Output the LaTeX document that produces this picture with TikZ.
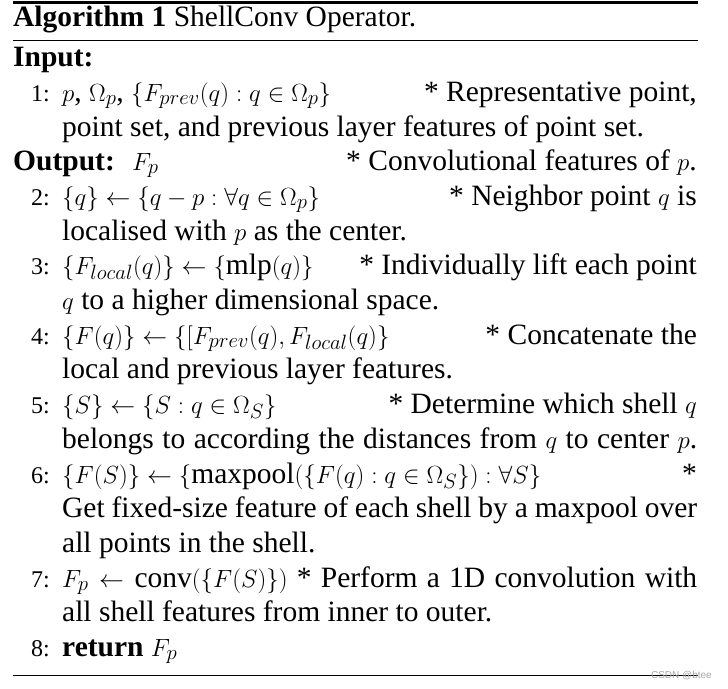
\documentclass[tikz,border=0pt]{standalone}
\usepackage{fontspec}
\setmainfont{Liberation Serif}
\newfontfamily\wmfont{Liberation Sans}
\begin{document}
\begin{tikzpicture}[x=1pt,y=-1pt,
  txt/.style={inner sep=0pt,anchor=base west,font=\fontsize{29.5}{33}\selectfont},
  rtx/.style={inner sep=0pt,anchor=base east,font=\fontsize{29.5}{33}\selectfont},
  num/.style={inner sep=0pt,anchor=base east,font=\fontsize{24}{28}\selectfont}]
\useasboundingbox (0,0) rectangle (728,688);
\def\L{62}\def\R{697}
\newcommand\jline[1]{\parbox[t]{635pt}{\parfillskip=0pt #1}}
\draw[line width=2.5pt] (13,2.5) coordinate (t1) -- (698,2.5) coordinate (t2);
\draw[line width=1pt] (13,40) coordinate (m1) -- (698,40) coordinate (m2);
\draw[line width=1pt] (13,675) coordinate (b1) -- (698,675) coordinate (b2);
\node[txt] (cap) at (13,26) {\textbf{Algorithm 1} ShellConv Operator.};
\node[txt] (in) at (13,66) {\textbf{Input:}};
\node[num] (n1) at (50,101) {1:};
\node[txt] (l1) at (\L,101) {$p$, $\Omega_p$, $\{F_{prev}(q): q\in\Omega_p\}$};
\node[rtx] (r1) at (\R,101) {* Representative point,};
\node[txt] (l2) at (\L,136) {point set, and previous layer features of point set.};
\node[txt] (out) at (13,170) {\textbf{Output:} \ $F_p$};
\node[rtx] (r3) at (\R,170) {* Convolutional features of $p$.};
\node[num] (n2) at (50,205) {2:};
\node[txt] (l4) at (\L,205) {$\{q\}\leftarrow\{q-p:\forall q\in\Omega_p\}$};
\node[rtx] (r4) at (\R,205) {* Neighbor point $q$ is};
\node[txt] (l5) at (\L,240) {localised with $p$ as the center.};
\node[num] (n3) at (50,274) {3:};
\node[txt] (l6) at (\L,274) {$\{F_{local}(q)\}\leftarrow\{\mathrm{mlp}(q)\}$};
\node[rtx] (r6) at (\R,274) {* Individually lift each point};
\node[txt] (l7) at (\L,309) {$q$ to a higher dimensional space.};
\node[num] (n4) at (50,344) {4:};
\node[txt] (l8) at (\L,344) {$\{F(q)\}\leftarrow\{[F_{prev}(q),F_{local}(q)\}$};
\node[rtx] (r8) at (\R,344) {* Concatenate the};
\node[txt] (l9) at (\L,378) {local and previous layer features.};
\node[num] (n5) at (50,413) {5:};
\node[txt] (l10) at (\L,413) {$\{S\}\leftarrow\{S:q\in\Omega_S\}$};
\node[rtx] (r10) at (\R,413) {* Determine which shell $q$};
\node[txt] (l11) at (\L,448) {\jline{belongs to according the distances from $q$ to center $p$.}};
\node[num] (n6) at (50,483) {6:};
\node[txt] (l12) at (\L,483) {$\{F(S)\}\leftarrow\{\mathrm{maxpool}(\{F(q):q\in\Omega_S\}):\forall S\}$};
\node[rtx] (r12) at (\R,483) {*};
\node[txt] (l13) at (\L,517) {\jline{Get fixed-size feature of each shell by a maxpool over}};
\node[txt] (l14) at (\L,552) {all points in the shell.};
\node[num] (n7) at (50,587) {7:};
\node[txt] (l15) at (\L,587) {\jline{$F_p\leftarrow\mathrm{conv}(\{F(S)\})$ * Perform a 1D convolution with}};
\node[txt] (l16) at (\L,621) {all shell features from inner to outer.};
\node[num] (n8) at (50,656) {8:};
\node[txt] (l17) at (\L,656) {\textbf{return} $F_p$};
\node[inner sep=0pt,anchor=east,text=gray!70,font=\wmfont\fontsize{10}{11}\selectfont] (wm) at (712,676) {CSDN @btee};
\end{tikzpicture}
\end{document}
